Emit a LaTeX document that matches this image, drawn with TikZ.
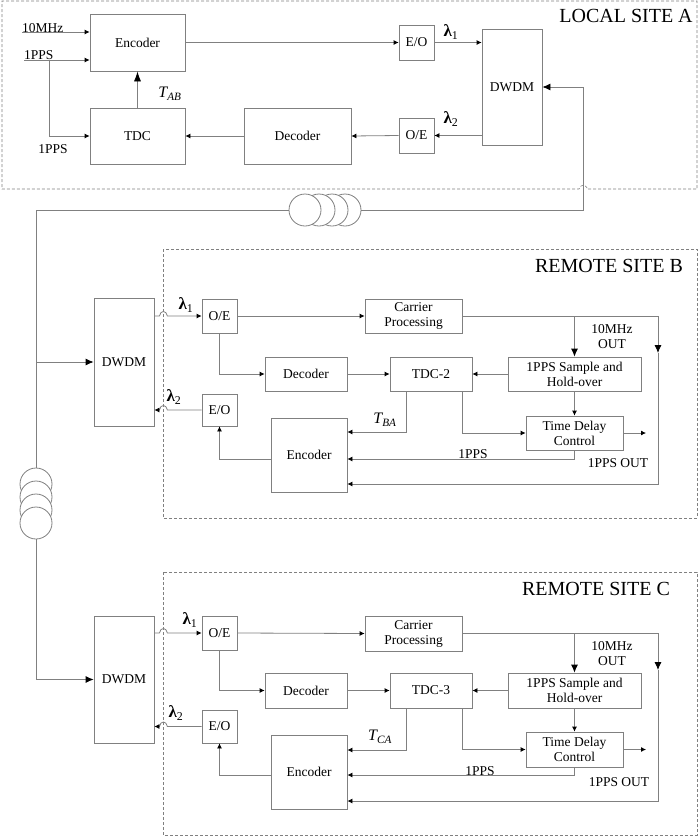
\documentclass[tikz,border=0pt]{standalone}
\usepackage{fontspec}
\setmainfont{Liberation Serif}
\usetikzlibrary{arrows.meta}

\begin{document}
\begin{tikzpicture}[x=1pt,y=-1pt,>={Latex[length=5pt,width=5pt,black]},
			wire/.style={draw=black!50,line width=0.8pt},
			big/.style={-{Latex[length=8pt,width=7pt,black]}},
			blk/.style={rectangle,draw=black!50,line width=0.8pt,inner sep=0pt,
				align=center,font=\fontsize{13.5}{15}\selectfont},
			site/.style={draw=black!50,line width=0.6pt,dash pattern=on 3pt off 2pt},
			lbl/.style={inner sep=0pt,align=center,font=\fontsize{13.5}{15}\selectfont},
			lam/.style={inner sep=0pt,font=\fontsize{17}{17}\selectfont\bfseries},
			tlbl/.style={inner sep=0pt,font=\fontsize{16}{16}\selectfont\itshape},
			sitename/.style={inner sep=0pt,font=\fontsize{20}{20}\selectfont},
			coil/.style={circle,draw=black!50,line width=0.8pt,fill=white,
				minimum size=32pt,inner sep=0pt}]
	
	\useasboundingbox (0,0) rectangle (699,836);
	
	% local site A
	\draw[site] (588,189) -- (697,189) -- (697,1) -- (2,1) -- (2,189) -- (579,189)
		.. controls (581,184) and (585,184) .. (588,189);
	\node[sitename] (nameA) at (626,16) {LOCAL SITE A};
	
	\node[blk,minimum width=95pt,minimum height=57pt] (encA) at (137.5,42.5) {Encoder};
	\node[blk,minimum width=95pt,minimum height=56pt] (tdcA) at (137.5,136) {TDC};
	\node[blk,minimum width=107pt,minimum height=56pt] (decA) at (297.5,136) {Decoder};
	\node[blk,minimum width=35pt,minimum height=35pt] (eoA) at (416.5,42.5) {E/O};
	\node[blk,minimum width=35pt,minimum height=35pt] (oeA) at (416.5,135.5) {O/E};
	\node[blk,minimum width=60pt,minimum height=116pt] (dwdmA) at (512,87) {DWDM};
	
	\coordinate (in10A) at (22,32);
	\coordinate (in1A) at (24,60);
	\coordinate (brA) at (49,60);
	\node[lbl,anchor=base west] (l10A) at (22,32) {10MHz};
	\node[lbl,anchor=base west] (l1A) at (24,59) {1PPS};
	\node[lbl,anchor=base] (l1A2) at (53,153) {1PPS};
	\node[tlbl] (tAB) at (170,94) {T\textsubscript{AB}};
	\node[lam] (lam1A) at (451,32) {λ\textsubscript{\mdseries 1}};
	\node[lam] (lam2A) at (451,119) {λ\textsubscript{\mdseries 2}};
	
	\draw[wire,->] (in10A) -- (encA.west |- in10A);
	\draw[wire,->] (in1A) -- (encA.west |- in1A);
	\draw[wire,->] (brA) |- (tdcA.west);
	\draw[wire,-{Latex[length=10pt,width=7pt,black]}] (tdcA.north) -- (encA.south);
	\draw[wire,->] (encA.east) -- (eoA.west);
	\draw[wire,->] (eoA.east) -- (eoA.east -| dwdmA.west);
	\draw[wire,->] (oeA.east -| dwdmA.west) -- (oeA.east);
	\draw[wire,->] (oeA.west) -- (decA.east);
	\draw[wire,->] (decA.west) -- (tdcA.east);
	
	% fibre spools
	\foreach \i/\x in {4/345,3/332,2/319,1/305}
		\node[coil] (h\i) at (\x,210) {};
	\foreach \i/\y in {1/484,2/497,3/510,4/523}
		\node[coil] (v\i) at (36,\y) {};
	\coordinate (fibA) at (583,87);
	
	% remote site B
	\draw[site] (163,249) rectangle (697,518);
	\node[sitename] (nameB) at (609,266) {REMOTE SITE B};
	
	\node[blk,minimum width=60pt,minimum height=128pt] (dwdmB) at (124,362) {DWDM};
	\node[blk,minimum width=35pt,minimum height=34pt] (oeB) at (219.5,316) {O/E};
	\node[blk,minimum width=35pt,minimum height=32pt] (eoB) at (219.5,410) {E/O};
	\node[blk,minimum width=97pt,minimum height=34pt] (carB) at (413.5,316) {Carrier\\Processing};
	\node[blk,minimum width=82pt,minimum height=34pt] (decB) at (306,374) {Decoder};
	\node[blk,minimum width=82pt,minimum height=34pt] (tdcB) at (431,374) {TDC-2};
	\node[blk,minimum width=133pt,minimum height=34pt] (smpB) at (574.5,374) {1PPS Sample and\\Hold-over};
	\node[blk,minimum width=97pt,minimum height=34pt] (tdlB) at (574.5,433) {Time Delay\\Control};
	\node[blk,minimum width=76pt,minimum height=74pt] (encB) at (309,455) {Encoder};
	\coordinate (rB) at (658,353);
	\coordinate (outB) at (646,433);
	
	\node[lam] (lam1B) at (186,305) {λ\textsubscript{\mdseries 1}};
	\node[lam] (lam2B) at (174,397) {λ\textsubscript{\mdseries 2}};
	\node[tlbl] (tBA) at (385,420) {T\textsubscript{BA}};
	\node[lbl] (l10B) at (612,337) {10MHz\\OUT};
	\node[lbl] (l1B) at (618,463) {1PPS OUT};
	\node[lbl,anchor=base] (lppsB) at (473,458) {1PPS};
	
	\draw[wire,->] (dwdmB.east |- oeB.west) -- ++(5,0)
		.. controls +(1,-6) and +(-1,-6) .. ++(8,0) -- (oeB.west);
	\draw[wire,<-] (dwdmB.east |- eoB.west) -- ++(5,0)
		.. controls +(1,-6) and +(-1,-6) .. ++(8,0) -- (eoB.west);
	\draw[wire,->] (oeB.east) -- (carB.west);
	\draw[wire,->] (oeB.south) |- (decB.west);
	\draw[wire,->] (decB.east) -- (tdcB.west);
	\draw[wire,->] (smpB.west) -- (tdcB.east);
	\draw[wire,big] (carB.east) -| (rB);
	\draw[wire,big] (carB.east -| smpB.north) -- (smpB.north);
	\draw[wire,->] (rB) |- ([yshift=-29pt]encB.east);
	\draw[wire,->] (smpB.south) -- (tdlB.north);
	\draw[wire,->] (tdlB.east) -- (outB);
	\draw[wire,->] ([xshift=-25pt]tdcB.south) |- ([yshift=23pt]encB.east);
	\draw[wire,->] ([xshift=31pt]tdcB.south) |- (tdlB.west);
	\draw[wire,->] (tdlB.south) |- ([yshift=-4pt]encB.east);
	\draw[wire,->] ([yshift=-4pt]encB.west) -| (eoB.south);
	
	% remote site C
	\draw[site] (163,572) rectangle (697,835);
	\node[sitename] (nameC) at (596,589) {REMOTE SITE C};
	
	\node[blk,minimum width=60pt,minimum height=127pt] (dwdmC) at (124,679.5) {DWDM};
	\node[blk,minimum width=35pt,minimum height=34pt] (oeC) at (219.5,633) {O/E};
	\node[blk,minimum width=35pt,minimum height=33pt] (eoC) at (219.5,726.5) {E/O};
	\node[blk,minimum width=97pt,minimum height=35pt] (carC) at (413.5,633.5) {Carrier\\Processing};
	\node[blk,minimum width=82pt,minimum height=35pt] (decC) at (306,690.5) {Decoder};
	\node[blk,minimum width=82pt,minimum height=35pt] (tdcC) at (431,690.5) {TDC-3};
	\node[blk,minimum width=133pt,minimum height=35pt] (smpC) at (574.5,690.5) {1PPS Sample and\\Hold-over};
	\node[blk,minimum width=97pt,minimum height=35pt] (tdlC) at (574.5,749.5) {Time Delay\\Control};
	\node[blk,minimum width=76pt,minimum height=74pt] (encC) at (309,772) {Encoder};
	\coordinate (rC) at (658,670);
	\coordinate (outC) at (646,749.5);
	
	\node[lam] (lam1C) at (190,620) {λ\textsubscript{\mdseries 1}};
	\node[lam] (lam2C) at (176,713) {λ\textsubscript{\mdseries 2}};
	\node[tlbl] (tCA) at (380,737) {T\textsubscript{CA}};
	\node[lbl] (l10C) at (612,654) {10MHz\\OUT};
	\node[lbl] (l1C) at (619,782) {1PPS OUT};
	\node[lbl,anchor=base] (lppsC) at (480,775) {1PPS};
	
	\draw[wire,->] (dwdmC.east |- oeC.west) -- ++(5,0)
		.. controls +(1,-6) and +(-1,-6) .. ++(8,0) -- (oeC.west);
	\draw[wire,<-] (dwdmC.east |- eoC.west) -- ++(5,0)
		.. controls +(1,-6) and +(-1,-6) .. ++(8,0) -- (eoC.west);
	\draw[wire,->] (oeC.east) -- (carC.west);
	\draw[wire,->] (oeC.south) |- (decC.west);
	\draw[wire,->] (decC.east) -- (tdcC.west);
	\draw[wire,->] (smpC.west) -- (tdcC.east);
	\draw[wire,big] (carC.east) -| (rC);
	\draw[wire,big] (carC.east -| smpC.north) -- (smpC.north);
	\draw[wire,->] (rC) |- ([yshift=-29pt]encC.east);
	\draw[wire,->] (smpC.south) -- (tdlC.north);
	\draw[wire,->] (tdlC.east) -- (outC);
	\draw[wire,->] ([xshift=-25pt]tdcC.south) |- ([yshift=22pt]encC.east);
	\draw[wire,->] ([xshift=31pt]tdcC.south) |- (tdlC.west);
	\draw[wire,->] (tdlC.south) |- ([yshift=-3pt]encC.east);
	\draw[wire,->] ([yshift=-3pt]encC.west) -| (eoC.south);
	
	% fibre links
	\draw[wire,big] (h4.east) -| (fibA) -- (dwdmA.east);
	\draw[wire] (h1.west) -| (v1.north);
	\draw[wire,big] (v1.north |- dwdmB.west) -- (dwdmB.west);
	\draw[wire,big] (v4.south) |- (dwdmC.west);
\end{tikzpicture}
\end{document}
